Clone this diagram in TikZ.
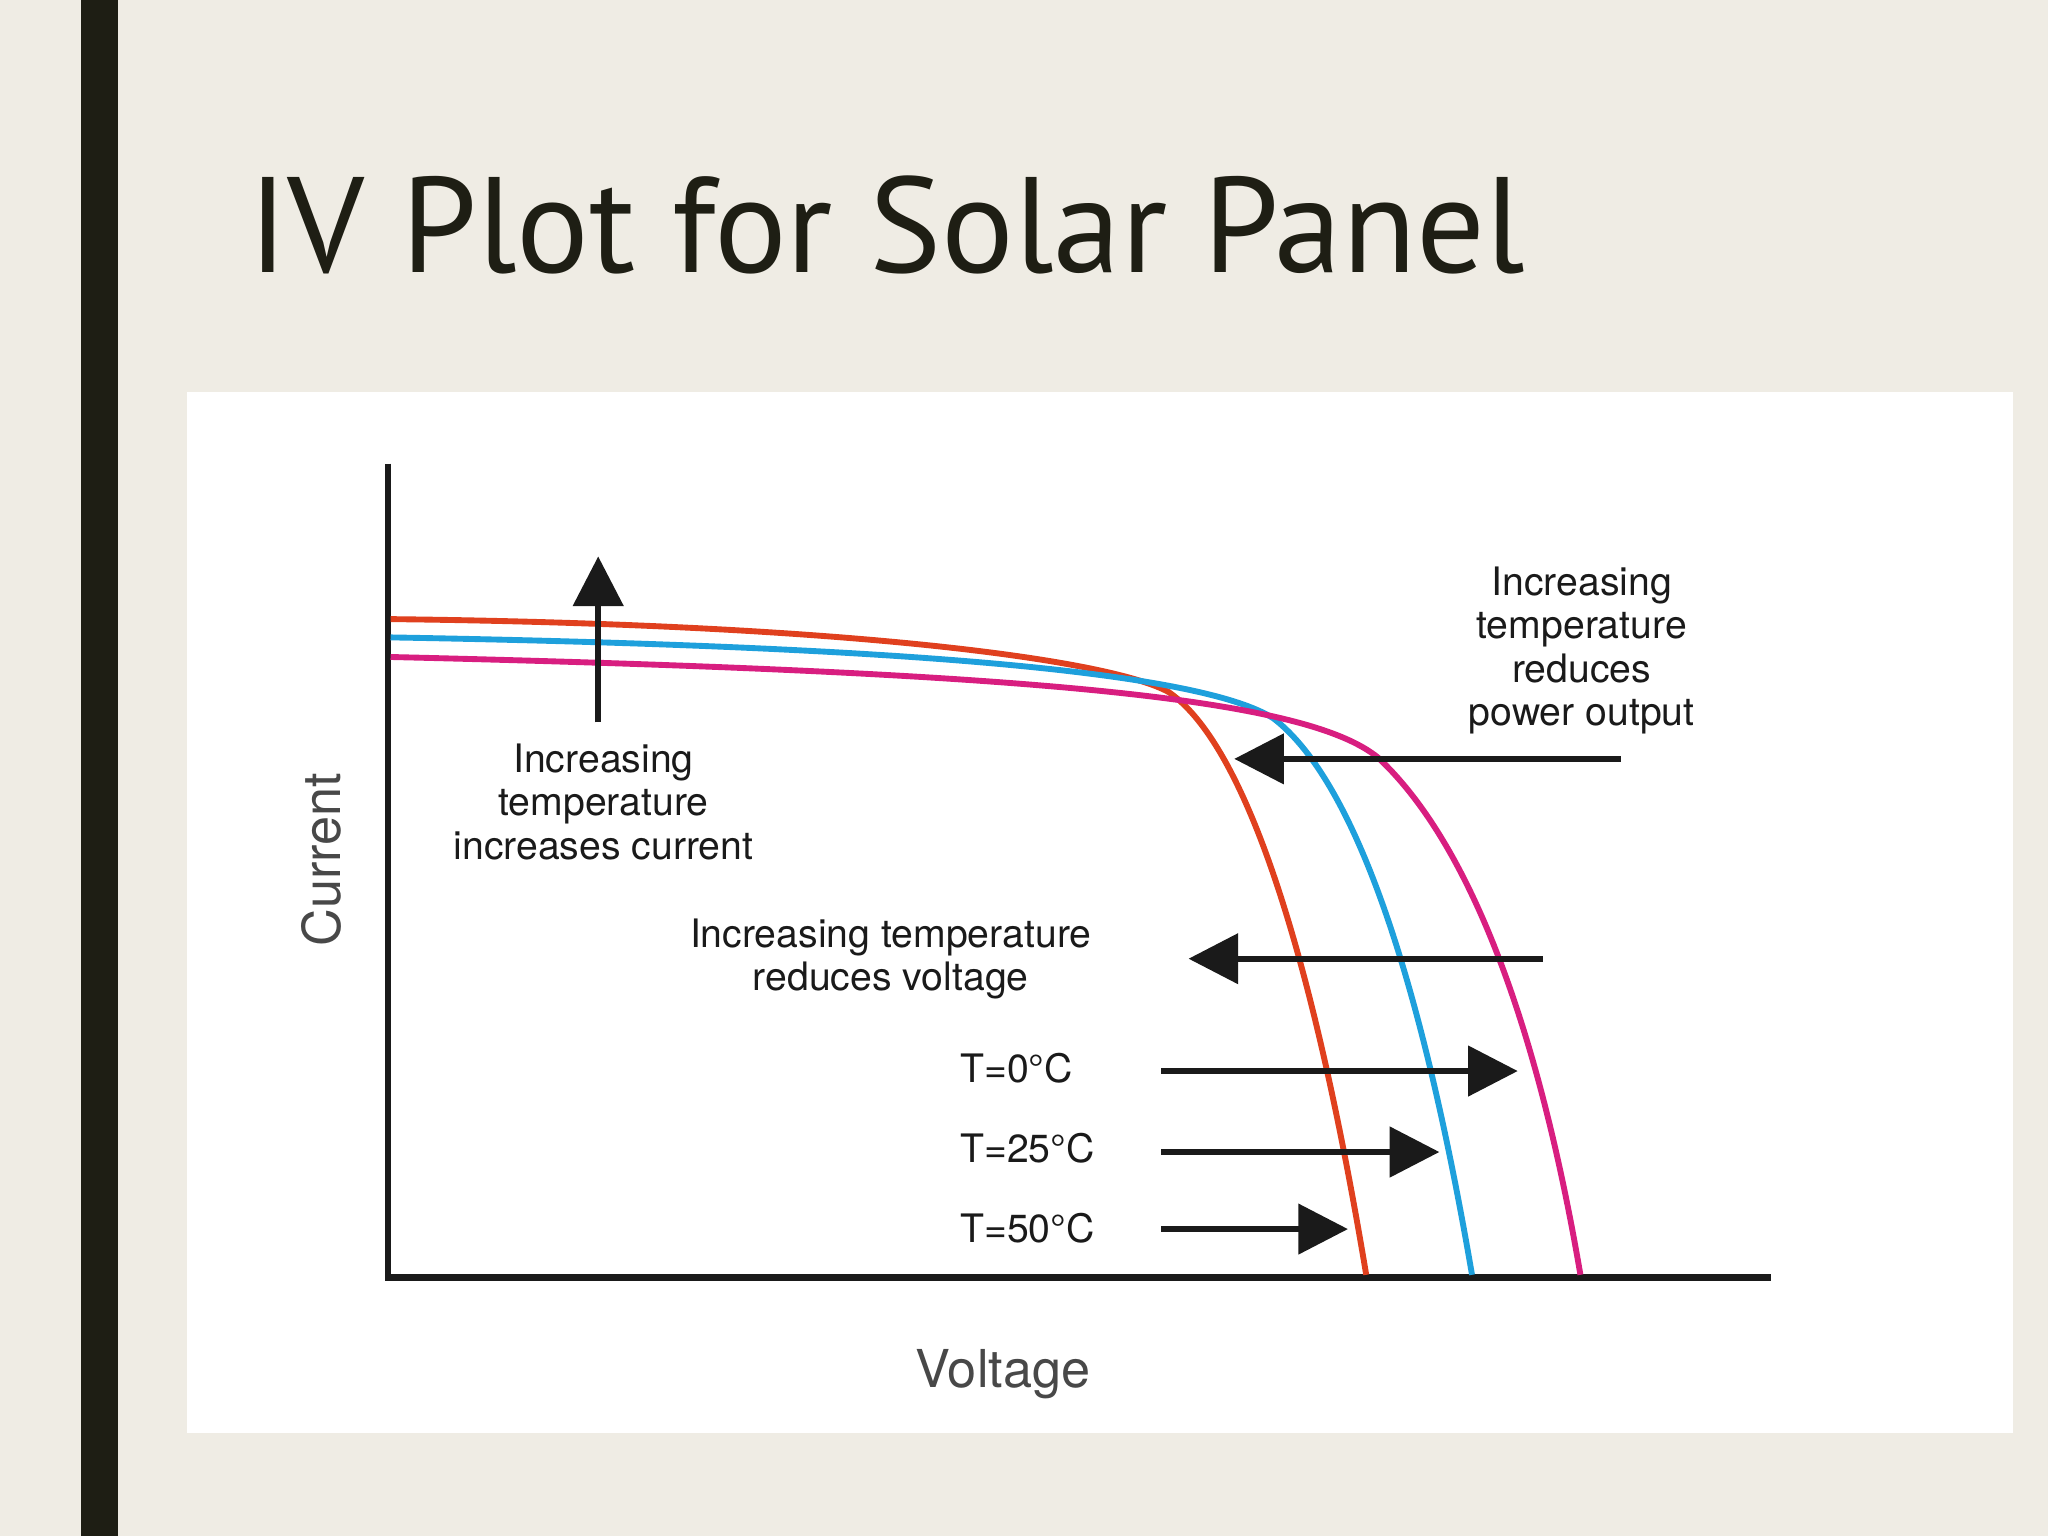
\documentclass[tikz,border=0pt]{standalone}
\usepackage{fontspec}
\setmainfont{TeX Gyre Heros}
\newfontfamily\titlefont{PT Sans}
\usetikzlibrary{arrows.meta}
\definecolor{bg}{HTML}{EFECE4}
\definecolor{bar}{HTML}{1E1E14}
\definecolor{cred}{HTML}{E0401E}
\definecolor{cblue}{HTML}{1EA0DC}
\definecolor{cmag}{HTML}{D81E80}
\definecolor{ink}{HTML}{1A1A1A}
\tikzset{
 lbl/.style={font=\fontsize{30}{33}\selectfont, text=ink, align=center, inner sep=0pt},
 arr/.style={line width=4.5pt, ink, -{Triangle[length=38pt,width=38pt]}},
 curve/.style={line width=4.5pt},
}
\begin{document}
\begin{tikzpicture}[x=1pt,y=-1pt]
\useasboundingbox (0,0) rectangle (1568,1176);
\fill[bg] (0,0) rectangle (1568,1176);
\fill[bar] (62,0) rectangle (90,1176);
\node[anchor=west, inner sep=0pt, text=bar, font=\titlefont\fontsize{104}{110}\selectfont] (title) at (190,172) {IV Plot for Solar Panel};
\fill[white] (143,300) rectangle (1541,1097);
% axes
\coordinate (ytop) at (297,355);
\coordinate (orig) at (297,978);
\coordinate (xend) at (1356,978);
\draw[line width=5pt, ink] (ytop) -- (orig) -- (xend);
% curves
\draw[curve, cred] (299,474) .. controls (650,478) and (850,505) .. (895,530) .. controls (960,575) and (1010,760) .. (1046,976);
\draw[curve, cblue] (299,488) .. controls (700,495) and (920,515) .. (975,550) .. controls (1040,600) and (1090,760) .. (1127,976);
\draw[curve, cmag] (299,503) .. controls (800,515) and (1000,535) .. (1055,580) .. controls (1130,650) and (1180,800) .. (1210,976);
% arrows
\coordinate (a1s) at (458,553); \coordinate (a1e) at (458,426);
\draw[arr] (a1s) -- (a1e);
\coordinate (a2s) at (1241,581); \coordinate (a2e) at (945,581);
\draw[arr] (a2s) -- (a2e);
\coordinate (a3s) at (1181,734); \coordinate (a3e) at (910,734);
\draw[arr] (a3s) -- (a3e);
\coordinate (a4s) at (889,820); \coordinate (a4e) at (1162,820);
\draw[arr] (a4s) -- (a4e);
\coordinate (a5s) at (889,882); \coordinate (a5e) at (1102,882);
\draw[arr] (a5s) -- (a5e);
\coordinate (a6s) at (889,941); \coordinate (a6e) at (1032,941);
\draw[arr] (a6s) -- (a6e);
% labels
\node[lbl] (l1) at (462,614) {Increasing\\temperature\\increases current};
\node[lbl] (l2) at (1211,498) {Increasing\\temperature\\reduces\\power output};
\node[lbl] (l3) at (682,734) {Increasing temperature\\reduces voltage};
\node[lbl, anchor=west] (t0) at (735,818) {T=0°C};
\node[lbl, anchor=west] (t25) at (735,879) {T=25°C};
\node[lbl, anchor=west] (t50) at (735,940) {T=50°C};
\node[lbl, font=\fontsize{40}{44}\selectfont, rotate=90, text=ink!80] (cur) at (246,658) {Current};
\node[lbl, font=\fontsize{40}{44}\selectfont, text=ink!80] (volt) at (768,1052) {Voltage};
\end{tikzpicture}
\end{document}
